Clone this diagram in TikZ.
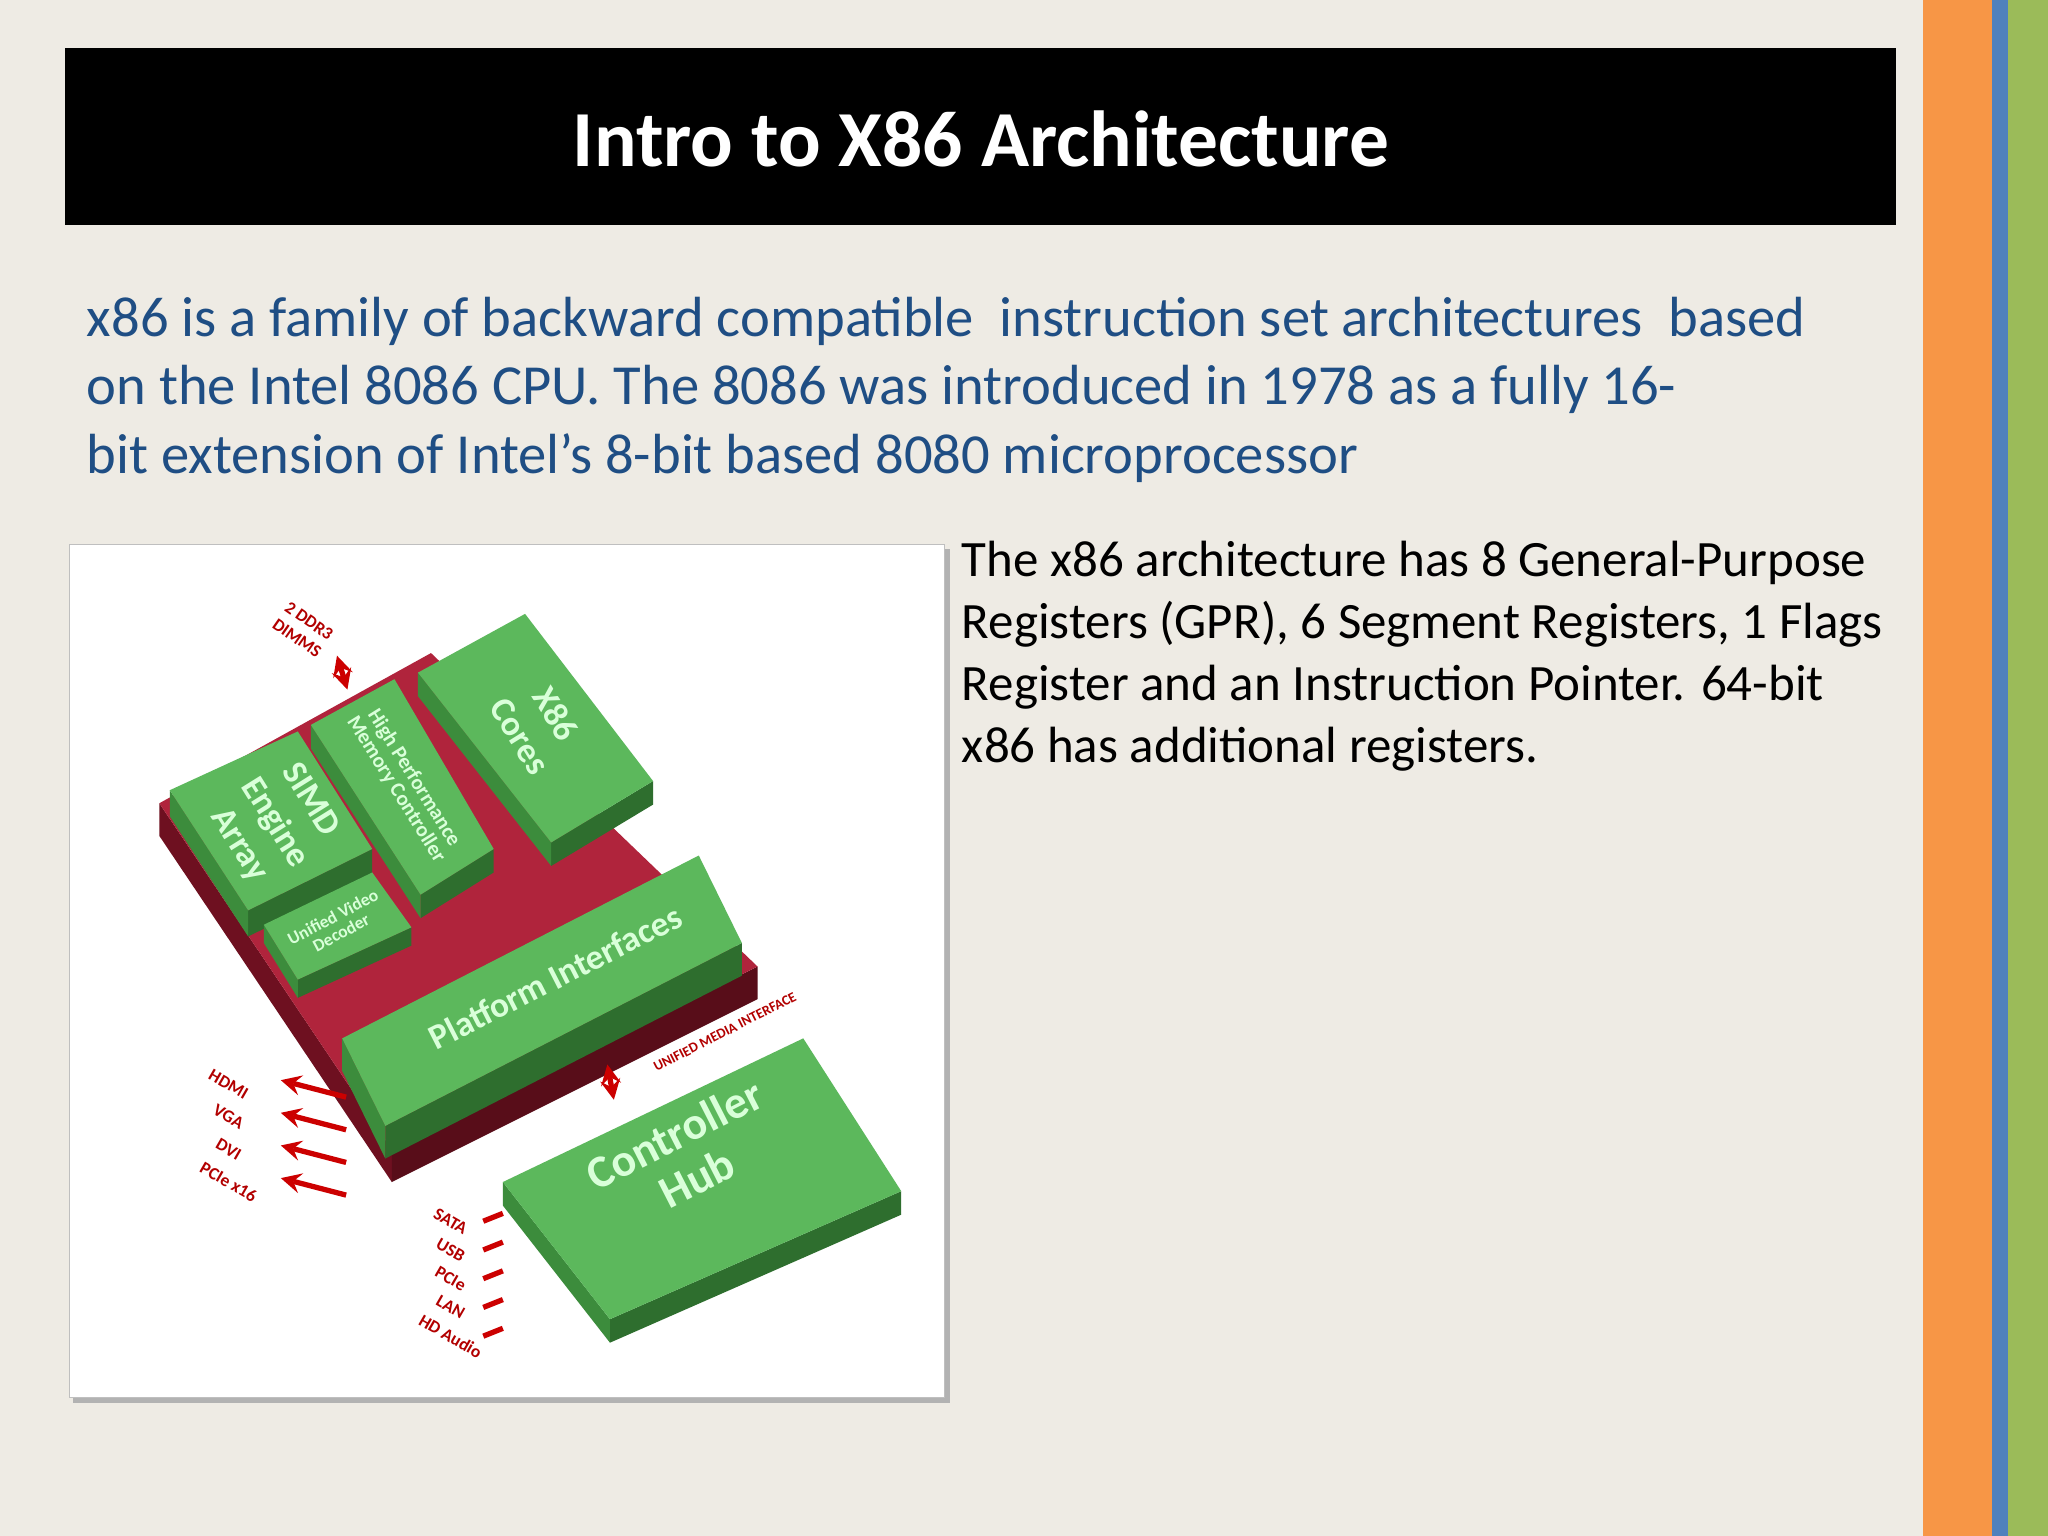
\documentclass[tikz,border=0pt]{standalone}
\usepackage{fontspec}
\setmainfont{Carlito}
\usetikzlibrary{calc}
\definecolor{bg}{HTML}{EEEBE4}
\definecolor{blueT}{HTML}{1F4E84}
\definecolor{gtop}{HTML}{5CB85C}
\definecolor{gside}{HTML}{3C8C3C}
\definecolor{gdark}{HTML}{2E6E2E}
\definecolor{rtop}{HTML}{B0243C}
\definecolor{rside}{HTML}{6E1020}
\definecolor{sOr}{HTML}{F79646}
\definecolor{sBl}{HTML}{4F81BD}
\definecolor{sGr}{HTML}{9BBB59}
\newcommand\myblk[5]{%
 \fill[gdark] (#4) -- (#3) -- ($(#3)+(0,#5)$) -- ($(#4)+(0,#5)$) -- cycle;
 \fill[gside] (#1) -- (#4) -- ($(#4)+(0,#5)$) -- ($(#1)+(0,#5)$) -- cycle;
 \fill[gtop] (#1) -- (#2) -- (#3) -- (#4) -- cycle;}
\tikzset{lbl/.style={text=white!85!green,font=\bfseries,align=center},
 rl/.style={text=red!70!black,font=\tiny\bfseries},
 ra/.style={red!80!black,line width=1.5pt,-stealth}}
\begin{document}
\begin{tikzpicture}[x=0.01306cm,y=-0.01306cm]
\fill[bg] (0,0) rectangle (1568,1176);
\fill[sOr] (1472,0) rectangle (1525,1176);
\fill[sBl] (1525,0) rectangle (1537,1176);
\fill[sGr] (1537,0) rectangle (1568,1176);
\fill[black] (50,37) rectangle (1452,172);
\node[text=white,font=\fontsize{22.6}{27}\selectfont\bfseries] (title) at (751,106) {Intro to X86 Architecture};
\node[anchor=north west,text=blueT,align=left,font=\fontsize{16.1}{19.5}\selectfont] (para) at (57,218)
 {x86 is a family of backward compatible\ \ instruction set architectures\ \ based\\
 on the Intel 8086 CPU. The 8086 was introduced in 1978 as a fully 16-\\
 bit extension of Intel's 8-bit based 8080 microprocessor};
\node[anchor=north west,align=left,font=\fontsize{14.5}{17.6}\selectfont] (right) at (727,405)
 {The x86 architecture has 8 General-Purpose\\Registers (GPR), 6 Segment Registers, 1 Flags\\Register and an Instruction Pointer. 64-bit\\x86 has additional registers.};
% image frame
\fill[gray!60] (56,420) rectangle (727,1074);
\fill[white,draw=gray!50] (53,417) rectangle (723,1070);
% base
\fill[rside] (122,615) -- (300,880) -- (300,905) -- (122,640) -- cycle;
\fill[rside!80!black] (300,880) -- (580,740) -- (580,765) -- (300,905) -- cycle;
\fill[rtop] (122,615) -- (330,500) -- (580,740) -- (300,880) -- cycle;
\myblk{130,605}{228,560}{285,650}{190,697}{20}
\myblk{202,708}{285,668}{315,710}{228,750}{14}
\myblk{238,555}{302,520}{378,650}{322,685}{18}
\myblk{320,515}{402,470}{500,598}{422,645}{18}
\myblk{262,795}{535,655}{568,722}{295,862}{25}
\myblk{385,905}{615,795}{690,912}{467,1010}{18}
\node[lbl,rotate=-58] (simd) at (210,630) {SIMD\\Engine\\Array};
\node[lbl,rotate=-58,font=\bfseries\fontsize{6}{6}\selectfont] (mid) at (310,600) {High Performance\\Memory Controller};
\node[lbl,rotate=-58] (x86) at (412,555) {X86\\Cores};
\node[lbl,rotate=28,font=\bfseries\fontsize{5}{5}\selectfont] (uvd) at (258,708) {Unified Video\\Decoder};
\node[lbl,rotate=27] (pi) at (425,748) {Platform Interfaces};
\node[lbl,rotate=27,font=\bfseries\fontsize{13}{14}\selectfont] (ch) at (525,885) {Controller\\Hub};
\node[rl,rotate=-35,align=center] (ddr) at (232,482) {2 DDR3\\DIMMS};
\draw[ra,stealth-stealth] (258,502) -- (266,528);
\node[rl,rotate=27,font=\bfseries\fontsize{4}{4}\selectfont] (umi) at (555,790) {UNIFIED MEDIA INTERFACE};
\draw[ra,stealth-stealth] (465,815) -- (470,842);
\foreach \y/\t in {830/HDMI,855/VGA,880/DVI,905/PCIe x16}{
 \node[rl,rotate=-30] at (175,\y) {\t};
 \draw[ra,stealth-] ($(215,\y)+(0,-3)$) -- ($(245,\y)+(20,10)$);}
\foreach \y/\t in {935/SATA,957/USB,979/PCIe,1001/LAN,1023/HD Audio}{
 \node[rl,rotate=-30] at (345,\y) {\t};
 \draw[ra,-] ($(370,\y)+(0,0)$) -- ($(385,\y)+(0,-6)$);}
\end{tikzpicture}
\end{document}
